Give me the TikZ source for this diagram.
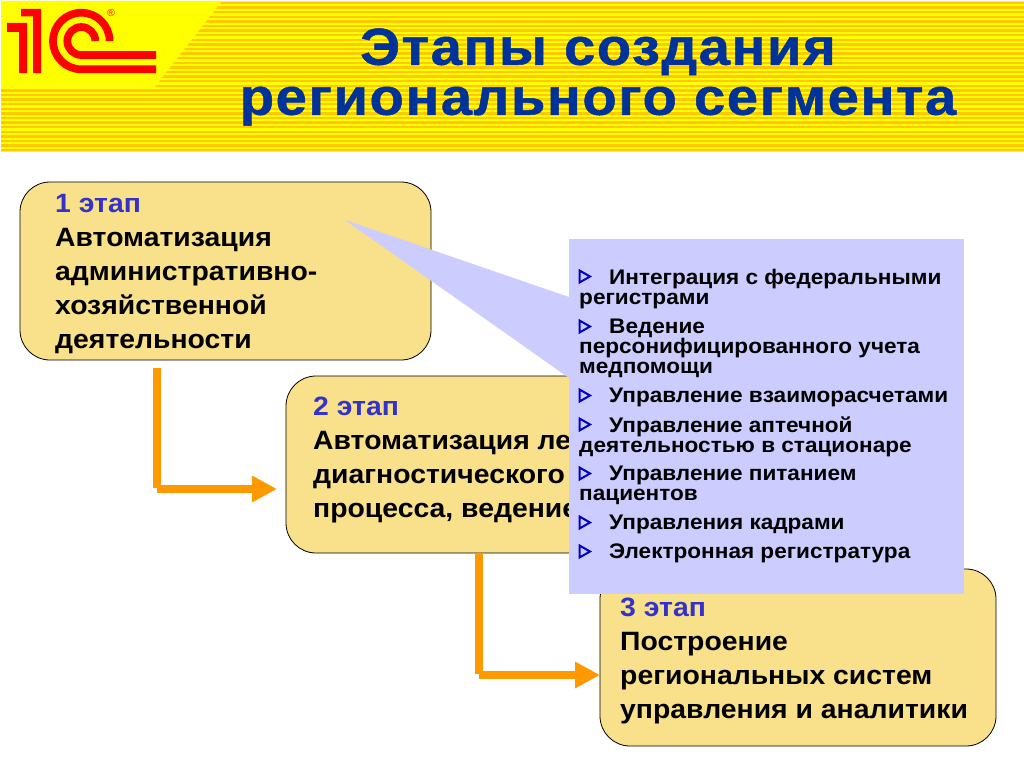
\documentclass[tikz,border=0pt]{standalone}
\usepackage{fontspec}
\setmainfont[FakeStretch=1.07]{Liberation Sans}
\newfontfamily\titlefont[FakeStretch=1.08,LetterSpace=3,FakeBold=1]{Liberation Sans}
\usetikzlibrary{arrows.meta}
\definecolor{bandyellow}{HTML}{FFFF00}
\definecolor{bandorange}{HTML}{FFC800}
\definecolor{logored}{HTML}{FF0000}
\definecolor{titleblue}{HTML}{003399}
\definecolor{stepblue}{HTML}{3333CC}
\definecolor{boxyellow}{HTML}{F9E08A}
\definecolor{panelblue}{HTML}{CCCCFF}
\definecolor{arroworange}{HTML}{FF9900}
\tikzset{
  stagebox/.style={draw=black,fill=boxyellow,rounded corners=30,line width=0.8},
  stagetext/.style={anchor=north west,align=left,inner sep=0,text=black,font=\fontsize{26.5}{34}\bfseries\selectfont},
  paneltext/.style={anchor=north west,align=left,inner sep=0,text=black,font=\fontsize{21.1}{20}\bfseries\selectfont},
  titletext/.style={inner sep=0,align=center,text=titleblue,font=\fontsize{52}{50}\bfseries\titlefont},
  steparrow/.style={arroworange,line width=8},
  bullet/.style={draw=blue!80!black,line width=2,line join=miter},
  logoline/.style={logored,line width=7.7},
}
\begin{document}
\begin{tikzpicture}[x=1pt,y=-1pt]
\useasboundingbox (0,0) rectangle (1024,768);
% header band
\fill[bandyellow] (1,1) rectangle (1024,152);
\foreach \y in {3,7.6,...,151}
  \draw[bandorange,line width=2.3] (1,\y) -- (1024,\y);
\fill[bandyellow] (1,1) -- (222,1) -- (153,89) -- (1,89) -- cycle;
% logo
\fill[logored] (21,9) -- (41,9) -- (41,73) -- (33,73) -- (33,16.5) -- (21,16.5) -- cycle;
\fill[logored] (7,23) -- (27,23) -- (27,73) -- (19,73) -- (19,32) -- (7,32) -- cycle;
\draw[logoline] (109.6,41) arc (0:-270:28.3) -- (156,69.3);
\draw[logoline] (95.3,41) arc (0:-270:14) -- (156,55);
\node[inner sep=0,text=logored,font=\fontsize{10}{10}\selectfont] (reg) at (111,13) {®};
% title
\node[titletext] (title) at (598,77) {Этапы создания\\регионального сегмента};
% stages
\path[stagebox] (20,182) rectangle (431,360);
\path[stagebox] (286,376) rectangle (690,553);
\path[stagebox] (600,569) rectangle (996,746);
\coordinate (box1out) at (157,368);
\coordinate (box1bend) at (157,489);
\coordinate (box2in) at (277,489);
\coordinate (box2out) at (479,553);
\coordinate (box2bend) at (479,675);
\coordinate (box3in) at (600,675);
\draw[steparrow] (box1out) -- (157,488);
\draw[steparrow,-{Triangle[length=25,width=25]}] (box1bend) -- (box2in);
\draw[steparrow] (box2out) -- (479,674);
\draw[steparrow,-{Triangle[length=25,width=25]}] (box2bend) -- (box3in);
\node[stagetext] (text1) at (55,194) {\textcolor{stepblue}{1 этап}\\Автоматизация\\административно-\\хозяйственной\\деятельности};
\node[stagetext] (text2) at (313,397) {\textcolor{stepblue}{2 этап}\\Автоматизация ле\\диагностического\\процесса, ведение};
\node[stagetext] (text3) at (620,598) {\textcolor{stepblue}{3 этап}\\Построение\\региональных систем\\управления и аналитики};
% callout panel
\fill[panelblue] (345,220) -- (569,297) -- (569,378) -- cycle;
\fill[panelblue] (569,239) rectangle (964,594);
\foreach \y/\t in {269/{\hspace*{30pt}Интеграция с федеральными\\регистрами},
  319/{\hspace*{30pt}Ведение\\персонифицированного учета\\медпомощи},
  388/{\hspace*{30pt}Управление взаиморасчетами},
  417/{\hspace*{30pt}Управление аптечной\\деятельностью в стационаре},
  466/{\hspace*{30pt}Управление питанием\\пациентов},
  515/{\hspace*{30pt}Управления кадрами},
  544/{\hspace*{30pt}Электронная регистратура}}{
  \node[paneltext] at (579,\y) {\t};
  \draw[bullet] (579.5,\y+1.5) -- (590,\y+7.5) -- (579.5,\y+13.5) -- cycle;
}
\end{tikzpicture}
\end{document}
